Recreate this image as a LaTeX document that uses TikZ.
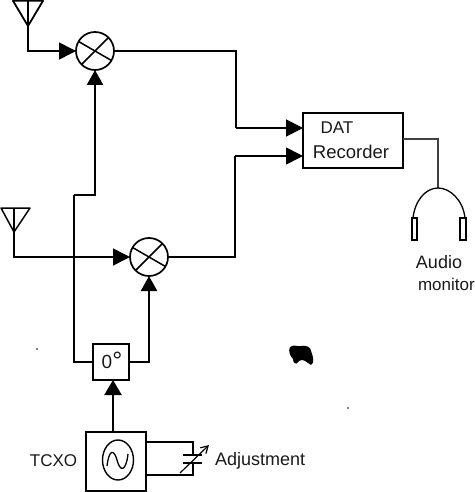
\documentclass[tikz,border=0pt]{standalone}
\usepackage{fontspec}
\setmainfont{Liberation Sans}
\usetikzlibrary{arrows.meta,shapes.geometric}
\tikzset{
  wire/.style={draw=black,line width=1.6pt},
  heavy/.style={draw=black,line width=2.3pt},
  thin wire/.style={draw=black!75,line width=1.1pt},
  feed/.style={wire,-{Triangle[length=17pt,width=17pt]}},
  feed up/.style={heavy,-{Triangle[length=15pt,width=16pt]}},
  mixer/.style={circle,draw=black,line width=1.7pt,minimum size=38pt,inner sep=0pt,outer sep=0pt},
  blockbox/.style={rectangle,draw=black,line width=1.7pt,inner sep=0pt,outer sep=0pt},
  lab/.style={inner sep=0pt,outer sep=0pt,text=black!90},
  aerial/.style={draw=black,line width=1.5pt,line join=round},
}
\newcommand{\lbl}[1]{\fontsize{#1}{#1}\selectfont}
\begin{document}
\begin{tikzpicture}[x=1pt,y=-1pt]
\useasboundingbox (0,0) rectangle (474,492);
% Blocks
\node[mixer] (m1) at (95,51) {};
\node[mixer] (m2) at (149,257) {};
\node[blockbox,minimum width=100pt,minimum height=55pt] (rec) at (353,140.5) {};
\node[blockbox,minimum width=36pt,minimum height=36pt] (split) at (111,362) {};
\node[blockbox,minimum width=60pt,minimum height=59pt] (tcxo) at (116,461.5) {};
\foreach \m in {m1,m2}{
  \draw[line width=1.5pt] (\m.150) -- (\m.-30);
  \draw[line width=1.5pt] (\m.45) -- (\m.225);
}
% Antennas
\coordinate (a1) at (28,26);
\coordinate (a2) at (14,232);
\draw[aerial,line width=1.8pt] (13,0.8) -- (43,0.8) -- (a1) -- cycle;
\draw[aerial] (28,1) -- (a1);
\draw[aerial] (1,208) -- (30,208) -- (a2) -- cycle;
\draw[aerial] (14,208) -- (a2);
% Signal paths
\draw[feed] (a1) |- (m1.west);
\draw[feed] (a2) |- (m2.west);
\coordinate (j1) at (236,128);
\coordinate (j2) at (235,156);
\draw[wire] (m1.east) -| (j1);
\draw[feed,line width=1.9pt] (j1) -- (rec.west |- j1);
\draw[wire] (m2.east) -| (j2);
\draw[feed] (j2) -- (rec.west |- j2);
\coordinate (v1) at (74,195);
\draw[heavy] (split.west) -| (v1);
\draw[feed up] (v1) -| (m1.south);
\draw[feed up] (split.east) -| (m2.south);
\coordinate (t1) at (113,432);
\draw[heavy,-{Triangle[length=15pt,width=17pt]}] (t1) -- (t1 |- split.south);
% Oscillator
\node[draw=black,line width=1.4pt,ellipse,minimum width=31pt,minimum height=40pt,inner sep=0pt] (osc) at (118,460) {};
\draw[line width=1.3pt] (107,466) .. controls (109,449) and (114,449) .. (117,460) .. controls (120,472) and (126,472) .. (128,454);
% Adjustment capacitor
\coordinate (c1) at (193,442);
\coordinate (c2) at (193,475);
\coordinate (p1) at (193,455);
\coordinate (p2) at (193,463);
\draw[wire] (146,442) -- (c1) -- (p1);
\draw[wire] (146,475) -- (c2) -- (p2);
\draw[line width=1.5pt] (183,455) -- (202,455);
\draw[line width=1.5pt] (183,463) -- (202,463);
\draw[line width=1.2pt,-{Straight Barb[length=7pt,width=8pt]}] (180,473) -- (209,445);
% Audio monitor
\coordinate (h0) at (438,188);
\draw[thin wire] (rec.east |- 0,139) -| (h0);
\draw[line width=1.3pt] (413,218) .. controls (415,200) and (426,188) .. (h0) .. controls (450,188) and (463,200) .. (465,218);
\draw[line width=1.4pt] (412,218) rectangle (417,240);
\draw[line width=1.4pt] (460,218) rectangle (466,240);
% Labels
\node[lab,font=\lbl{17}] (tdat) at (337,128) {DAT};
\node[lab,font=\lbl{18.5}] (trec) at (351,152) {Recorder};
\node[lab,font=\lbl{19}] (tdeg) at (112,361) {0\raisebox{-1pt}{\lbl{25}°}};
\node[lab,font=\lbl{17}] (ttcxo) at (53.5,461) {TCXO};
\node[lab,font=\lbl{18},anchor=west] (tadj) at (215,461) {Adjustment};
\node[lab,font=\lbl{18}] (taud) at (439,262) {Audio};
\node[lab,font=\lbl{17},anchor=west] (tmon) at (418,284) {monitor};
% Specks
\fill (37,349) circle (0.8);
\fill (348,408) circle (0.8);
\fill (290,347) .. controls (294,344) and (298,347) .. (301,346) .. controls (306,345) and (311,347) .. (311,351) .. controls (313,356) and (315,363) .. (311,365) .. controls (306,362) and (303,358) .. (299,361) .. controls (296,366) and (293,363) .. (293,359) .. controls (290,356) and (288,351) .. (290,347) -- cycle;
\end{tikzpicture}
\end{document}
